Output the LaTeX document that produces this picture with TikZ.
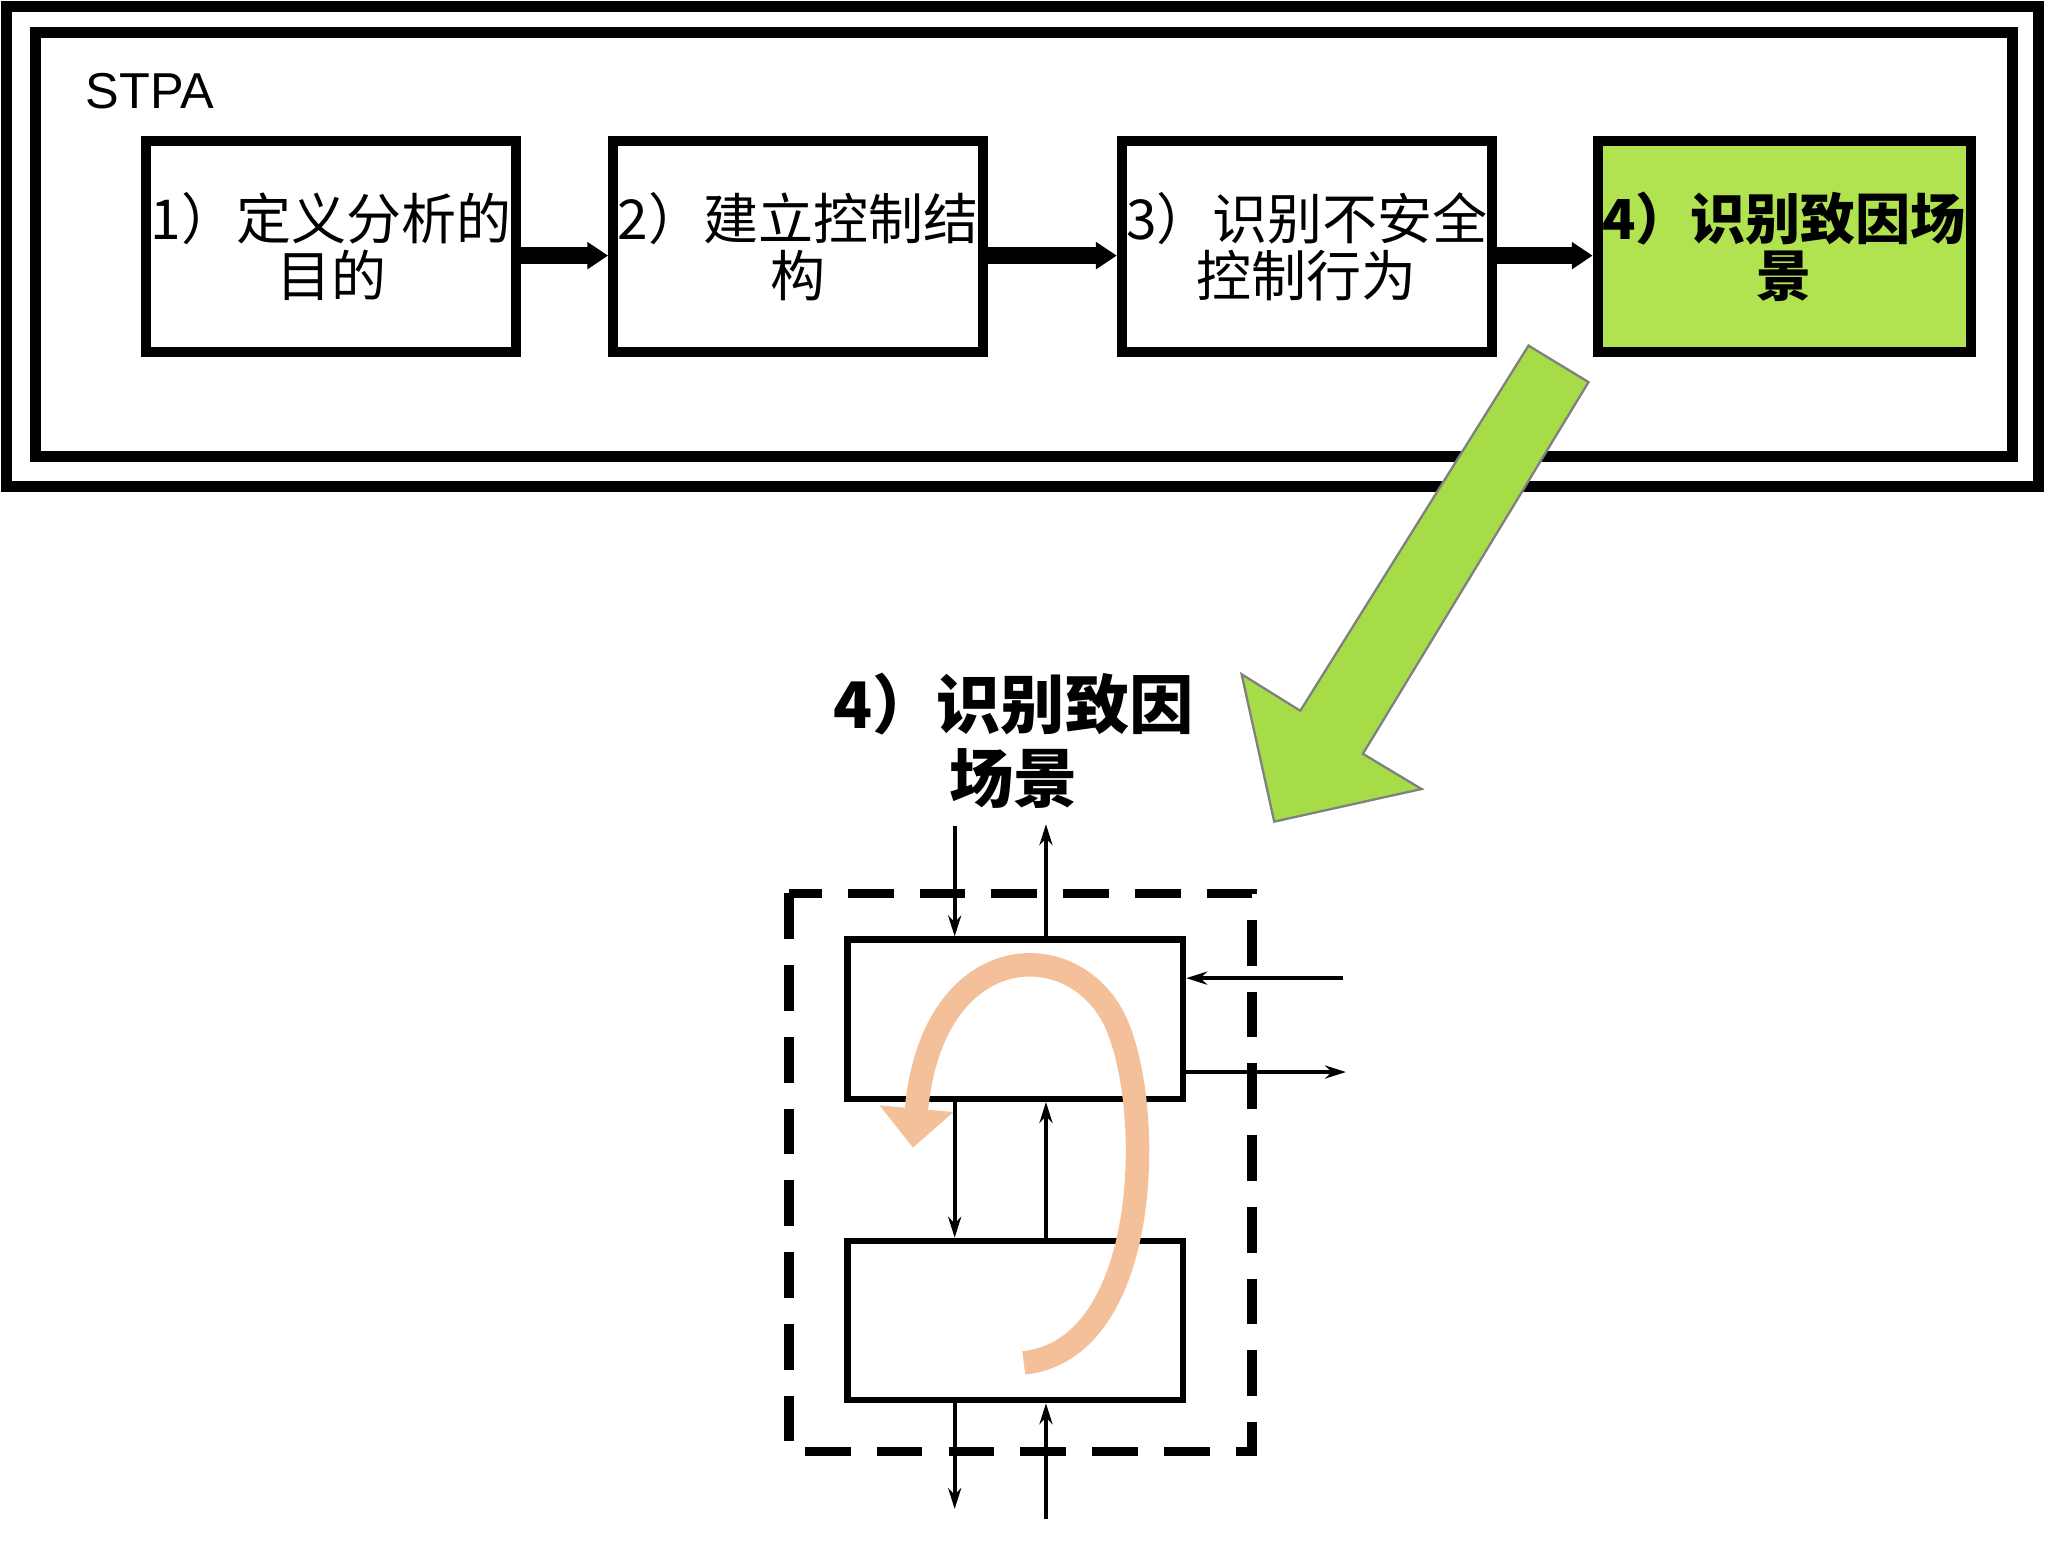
\documentclass[tikz,border=0pt]{standalone}
\usepackage{fontspec}
\setmainfont{Liberation Sans}
\newfontfamily\cjk{Noto Sans CJK SC}
\usetikzlibrary{arrows.meta}
\definecolor{lgreen}{HTML}{B0E34F}
\definecolor{agreen}{HTML}{A6DC48}
\definecolor{orng}{HTML}{F4C09A}
\tikzset{
 stepbox/.style={draw,line width=2.2pt,minimum width=2.64cm,minimum height=1.62cm,align=center,font=\cjk\fontsize{12}{12.5}\selectfont,inner sep=1pt},
 bigarr/.style={line width=3.6pt,-{Triangle[length=0.16cm,width=0.2cm]}},
 blk/.style={draw,line width=1.4pt,minimum width=2.57cm,minimum height=1.22cm},
 thin/.style={line width=0.8pt,-{Stealth[length=0.16cm,width=0.1cm]}}
}
\begin{document}
\begin{tikzpicture}[x=0.01cm,y=-0.01cm]
\useasboundingbox (0,0) rectangle (1568,1186);
\draw[line width=2.4pt] (5,5) rectangle (1563,373);
\draw[line width=2.4pt] (27,25) rectangle (1543,350);
\node[font=\fontsize{11}{12}\selectfont] (stpa) at (115,70) {STPA};
\node[stepbox] (s1) at (254,189) {1）定义分析的\\目的};
\node[stepbox] (s2) at (612,189) {2）建立控制结\\构};
\node[stepbox] (s3) at (1002,189) {3）识别不安全\\控制行为};
\node[stepbox,fill=lgreen,font=\cjk\bfseries\fontsize{12}{12.5}\selectfont] (s4) at (1368,189) {4）识别致因场\\景};
\draw[bigarr] ([yshift=-0.07cm]s1.east) -- ([yshift=-0.07cm]s2.west);
\draw[bigarr] ([yshift=-0.07cm]s2.east) -- ([yshift=-0.07cm]s3.west);
\draw[bigarr] ([yshift=-0.07cm]s3.east) -- ([yshift=-0.07cm]s4.west);
\draw[fill=agreen,draw=gray,line width=0.5pt] (1172,265)--(1218,293)--(1045,578)--(1090,605)--(977,630)--(952,517)--(997,545)--cycle;
\node[font=\cjk\bfseries\fontsize{14}{16}\selectfont,align=center] (title) at (777,568) {4）识别致因\\场景};
\draw[line width=2pt,dash pattern=on 0.35cm off 0.2cm] (605,685) rectangle (960,1113);
\node[blk] (top) at (778.5,781.5) {};
\node[blk] (bot) at (778.5,1012.5) {};
\coordinate (a1) at (732,633); \coordinate (a2) at (802,632);
\coordinate (r1) at (1030,750); \coordinate (r2) at (1032,822);
\coordinate (b1) at (732,1157); \coordinate (b2) at (802,1165);
\draw[thin] (a1) -- (a1|-top.north);
\draw[thin] (a2|-top.north) -- (a2);
\draw[thin] (r1) -- (r1-|top.east);
\draw[thin] (r2-|top.east) -- (r2);
\draw[thin] (a1|-top.south) -- (a1|-bot.north);
\draw[thin] (a2|-bot.north) -- (a2|-top.south);
\draw[thin] (b1|-bot.south) -- (b1);
\draw[thin] (b2) -- (b2|-bot.south);
\draw[orng,line width=0.18cm,-{Triangle[length=0.3cm,width=0.55cm]}] (785,1045) .. controls (880,1035) and (885,860) .. (858,790) .. controls (830,715) and (715,715) .. (700,880);
\end{tikzpicture}
\end{document}
